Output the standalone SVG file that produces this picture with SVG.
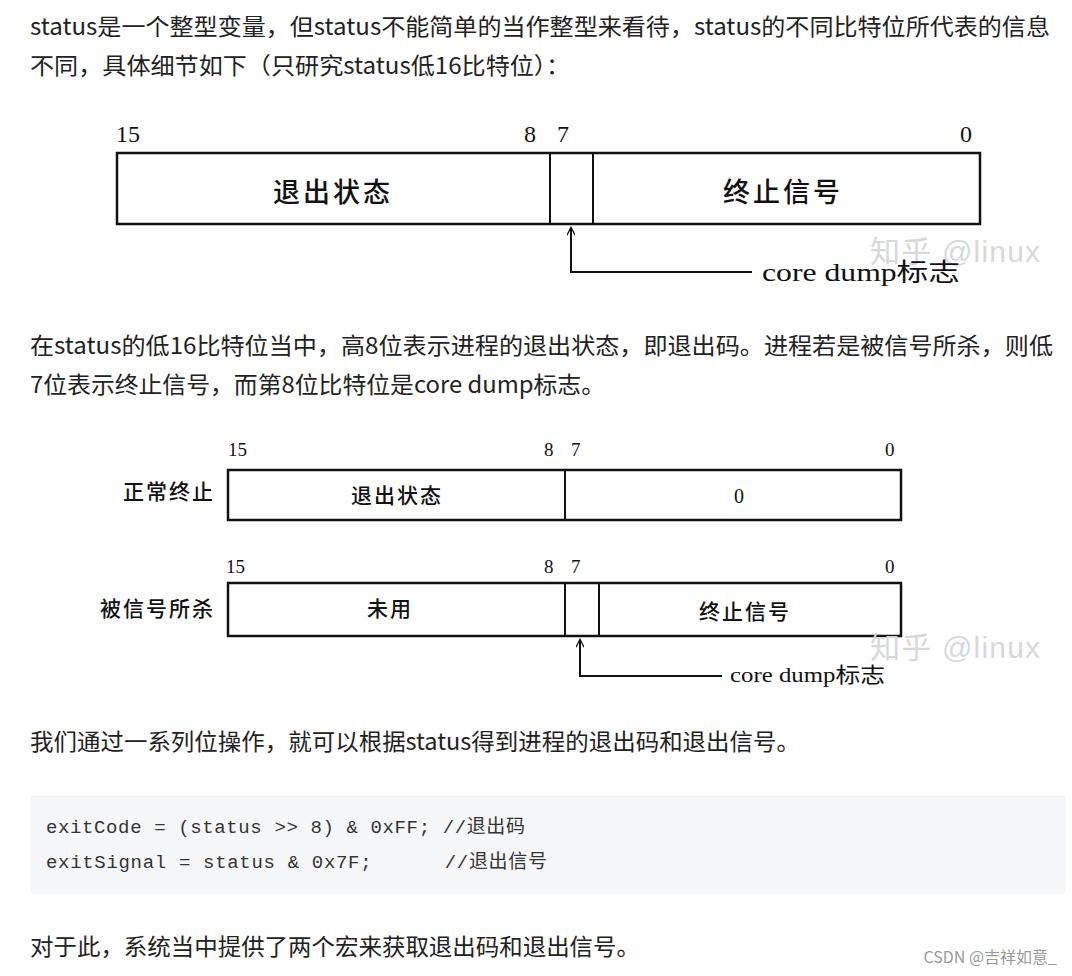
<svg xmlns="http://www.w3.org/2000/svg" width="1072" height="976" viewBox="0 0 1072 976">
<defs>
<style>
.p{font-family:"Noto Sans CJK SC","Noto Sans",sans-serif;font-size:23px;fill:#222}
.s{font-family:"Liberation Serif","Noto Sans CJK SC",serif;fill:#111}
.b{fill:#fff;stroke:#111;stroke-width:2.5}
.l{stroke:#111;stroke-width:2;fill:none}
.w{font-family:"Liberation Sans","Noto Sans CJK SC",sans-serif;fill:#d8d8d8}
.c{font-family:"Liberation Mono","Noto Sans CJK SC",monospace;font-size:19px;fill:#333}
</style>
<marker id="a" viewBox="0 0 10 10" refX="5" refY="1" markerWidth="8" markerHeight="10" orient="0" markerUnits="userSpaceOnUse"><path d="M0,10 L5,0 L10,10" fill="none" stroke="#111" stroke-width="1.5"/></marker>
</defs>
<rect width="1072" height="976" fill="#fff"/>
<text class="p" x="30" y="35" textLength="1020" lengthAdjust="spacingAndGlyphs">status是一个整型变量，但status不能简单的当作整型来看待，status的不同比特位所代表的信息</text>
<text class="p" x="30" y="74" textLength="540" lengthAdjust="spacingAndGlyphs">不同，具体细节如下（只研究status低16比特位）：</text>
<g id="fig1">
<g class="s" font-size="24"><text x="116" y="142">15</text><text x="524" y="142">8</text><text x="557" y="142">7</text><text x="960" y="142">0</text></g>
<rect class="b" x="117" y="153" width="863" height="71"/>
<line class="l" x1="550" y1="153" x2="550" y2="224"/><line class="l" x1="593" y1="153" x2="593" y2="224"/>
<text class="s" font-size="27" font-weight="500" x="333" y="202" text-anchor="middle" letter-spacing="3">退出状态</text>
<text class="s" font-size="27" font-weight="500" x="783" y="202" text-anchor="middle" letter-spacing="3">终止信号</text>
<text class="w" font-size="30" x="870" y="262" textLength="170">知乎 @linux</text>
<path class="l" d="M571,228 V272 H752" marker-start="url(#a)"/>
<text class="s" font-size="25" x="762" y="281" textLength="198" lengthAdjust="spacingAndGlyphs">core dump标志</text>
</g>
<text class="p" x="30" y="354" textLength="1023" lengthAdjust="spacingAndGlyphs">在status的低16比特位当中，高8位表示进程的退出状态，即退出码。进程若是被信号所杀，则低</text>
<text class="p" x="30" y="393" textLength="575" lengthAdjust="spacingAndGlyphs">7位表示终止信号，而第8位比特位是core dump标志。</text>
<g id="fig2">
<g class="s" font-size="19"><text x="228" y="456">15</text><text x="544" y="456">8</text><text x="571" y="456">7</text><text x="885" y="456">0</text></g>
<text class="s" font-size="21" font-weight="500" x="123" y="499" letter-spacing="2">正常终止</text>
<rect class="b" x="228" y="470" width="673" height="50"/>
<line class="l" x1="565" y1="470" x2="565" y2="520"/>
<text class="s" font-size="21" font-weight="500" x="397" y="503" text-anchor="middle" letter-spacing="2">退出状态</text>
<text class="s" font-size="20" x="739" y="503" text-anchor="middle">0</text>
</g>
<g id="fig3">
<g class="s" font-size="19"><text x="226" y="573">15</text><text x="544" y="573">8</text><text x="571" y="573">7</text><text x="885" y="573">0</text></g>
<text class="s" font-size="21" font-weight="500" x="100" y="616" letter-spacing="2">被信号所杀</text>
<rect class="b" x="228" y="583" width="673" height="53"/>
<line class="l" x1="565" y1="583" x2="565" y2="636"/><line class="l" x1="599" y1="583" x2="599" y2="636"/>
<text class="s" font-size="21" font-weight="500" x="390" y="616" text-anchor="middle" letter-spacing="2">未用</text>
<text class="s" font-size="21" font-weight="500" x="745" y="619" text-anchor="middle" letter-spacing="2">终止信号</text>
<text class="w" font-size="30" x="870" y="658" textLength="170">知乎 @linux</text>
<path class="l" d="M580,640 V676 H722" marker-start="url(#a)"/>
<text class="s" font-size="21" x="730" y="682" textLength="155" lengthAdjust="spacingAndGlyphs">core dump标志</text>
</g>
<text class="p" x="30" y="750" textLength="770" lengthAdjust="spacingAndGlyphs">我们通过一系列位操作，就可以根据status得到进程的退出码和退出信号。</text>
<rect x="30" y="795" width="1036" height="99" fill="#f6f7f9" rx="3"/>
<text class="c" x="46" y="833" xml:space="preserve" textLength="479">exitCode = (status &gt;&gt; 8) &amp; 0xFF; //退出码</text>
<text class="c" x="46" y="868" xml:space="preserve" textLength="501">exitSignal = status &amp; 0x7F;      //退出信号</text>
<text class="p" x="30" y="955" textLength="610" lengthAdjust="spacingAndGlyphs">对于此，系统当中提供了两个宏来获取退出码和退出信号。</text>
<text x="1057" y="963" text-anchor="end" font-family="Noto Sans CJK SC,sans-serif" font-size="16" fill="#999">CSDN @吉祥如意_</text>
</svg>
